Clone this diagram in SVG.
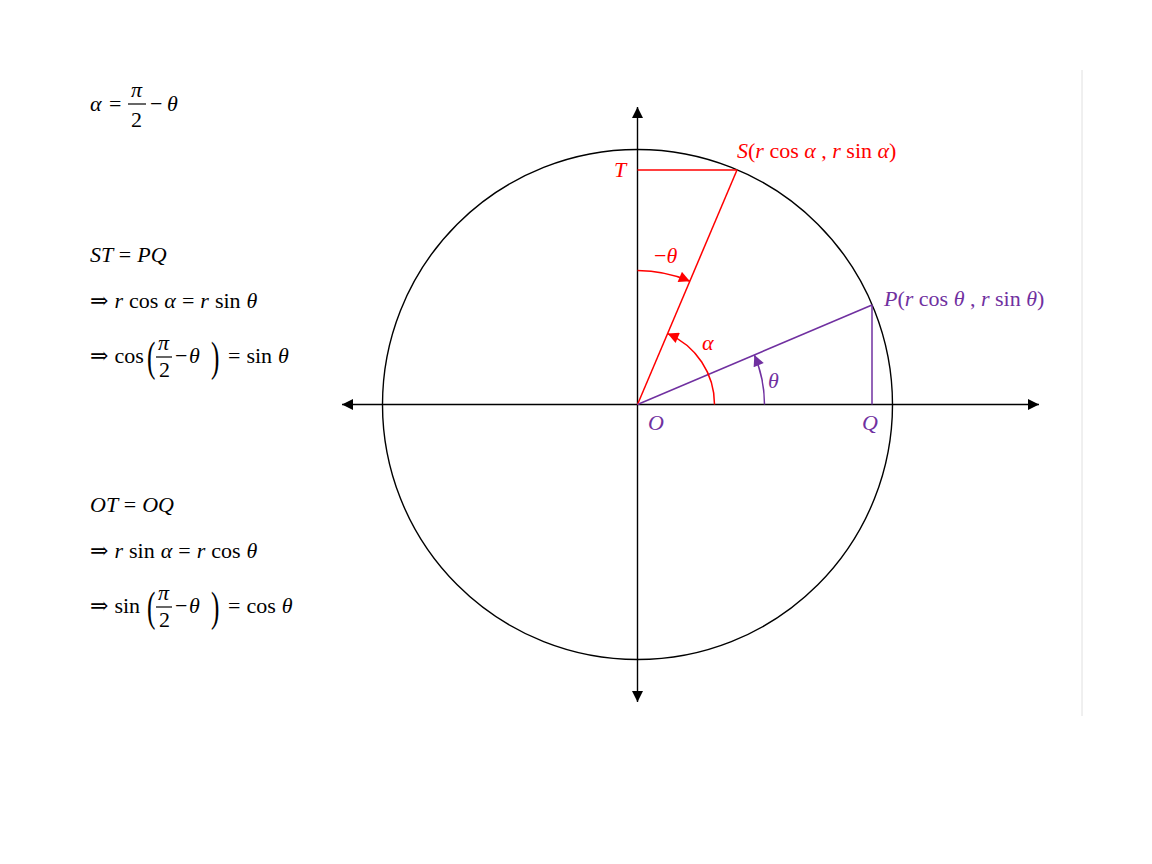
<svg xmlns="http://www.w3.org/2000/svg" width="1152" height="864" viewBox="0 0 1152 864">
<style>
text{font-family:"Liberation Serif","DejaVu Serif",serif;font-size:22px;fill:#000}
.eq{word-spacing:0.5px}
.i{font-style:italic}
.red{fill:#FF0000}
.pur{fill:#7030A0}
.ax{stroke:#000;stroke-width:1.4;fill:none}
.rl{stroke:#FF0000;stroke-width:1.5;fill:none}
.pl{stroke:#7030A0;stroke-width:1.5;fill:none}
.bar{stroke:#000;stroke-width:1.2}
.big{font-size:42px}
</style>
<defs>
<marker id="ab" viewBox="0 0 10 10" refX="10" refY="5" markerWidth="12" markerHeight="11" markerUnits="userSpaceOnUse" orient="auto"><path d="M0,0 L10,5 L0,10 Z" fill="#000"/></marker>
<marker id="ar" viewBox="0 0 10 10" refX="10" refY="5" markerWidth="12" markerHeight="11" markerUnits="userSpaceOnUse" orient="auto"><path d="M0,0 L10,5 L0,10 Z" fill="#FF0000"/></marker>
<marker id="ap" viewBox="0 0 10 10" refX="10" refY="5" markerWidth="12" markerHeight="11" markerUnits="userSpaceOnUse" orient="auto"><path d="M0,0 L10,5 L0,10 Z" fill="#7030A0"/></marker>
</defs>
<rect width="1152" height="864" fill="#fff"/>
<line x1="1082" y1="70" x2="1082" y2="716" stroke="#e0e0e0" stroke-width="1"/>

<g id="equations">
<text x="90" y="111" class="i">α</text>
<text x="109" y="111">=</text>
<text x="131" y="97" class="i">π</text>
<line class="bar" x1="128" y1="104" x2="146" y2="104"/>
<text x="131" y="127">2</text>
<text x="150" y="111">−</text>
<text x="167" y="111" class="i">θ</text>

<text x="90" y="262" class="i eq">ST <tspan font-style="normal">=</tspan> PQ</text>
<text x="90" y="308" class="eq">⇒ <tspan class="i">r</tspan> cos <tspan class="i">α</tspan> = <tspan class="i">r</tspan> sin <tspan class="i">θ</tspan></text>
<text x="90" y="363" class="eq">⇒ cos</text>
<text x="147" y="371" class="big" transform="translate(147 371) scale(0.6 1) translate(-147 -371)">(</text>
<text x="158" y="350" class="i">π</text>
<line class="bar" x1="156" y1="357" x2="172" y2="357"/>
<text x="159" y="377">2</text>
<text x="175" y="363">−</text>
<text x="189" y="363" class="i">θ</text>
<text x="211" y="371" class="big" transform="translate(211 371) scale(0.6 1) translate(-211 -371)">)</text>
<text x="228" y="363" class="eq">= sin <tspan class="i">θ</tspan></text>

<text x="90" y="512" class="i eq">OT <tspan font-style="normal">=</tspan> OQ</text>
<text x="90" y="558" class="eq">⇒ <tspan class="i">r</tspan> sin <tspan class="i">α</tspan> = <tspan class="i">r</tspan> cos <tspan class="i">θ</tspan></text>
<text x="90" y="613" class="eq">⇒ sin</text>
<text x="147" y="621" class="big" transform="translate(147 621) scale(0.6 1) translate(-147 -621)">(</text>
<text x="158" y="600" class="i">π</text>
<line class="bar" x1="156" y1="607" x2="172" y2="607"/>
<text x="159" y="627">2</text>
<text x="175" y="613">−</text>
<text x="189" y="613" class="i">θ</text>
<text x="211" y="621" class="big" transform="translate(211 621) scale(0.6 1) translate(-211 -621)">)</text>
<text x="228" y="613" class="eq">= cos <tspan class="i">θ</tspan></text>
</g>

<g id="circle">
<circle cx="637.5" cy="404.5" r="255" class="ax"/>
</g>

<g id="connectors">
<line class="ax" x1="637.5" y1="404.5" x2="342" y2="404.5" marker-end="url(#ab)"/>
<line class="ax" x1="637.5" y1="404.5" x2="1039" y2="404.5" marker-end="url(#ab)"/>
<line class="ax" x1="637.5" y1="404.5" x2="637.5" y2="107" marker-end="url(#ab)"/>
<line class="ax" x1="637.5" y1="404.5" x2="637.5" y2="702" marker-end="url(#ab)"/>

<line class="rl" x1="637.5" y1="404.5" x2="737" y2="170"/>
<line class="rl" x1="637.5" y1="170" x2="737" y2="170"/>
<line class="pl" x1="637.5" y1="404.5" x2="872" y2="305"/>
<line class="pl" x1="872" y1="305" x2="872" y2="404.5"/>

<path class="rl" d="M714.5,404.5 A77,77 0 0 0 667.6,333.6" marker-end="url(#ar)"/>
<path class="pl" d="M764.5,404.5 A127,127 0 0 0 754.4,355.1" marker-end="url(#ap)"/>
<path class="rl" d="M637.5,270.5 A134,134 0 0 1 689.9,281.2" marker-end="url(#ar)"/>
</g>

<g id="labels">
<text x="737" y="158" class="red"><tspan class="i">S</tspan>(<tspan class="i">r</tspan> cos <tspan class="i">α</tspan> , <tspan class="i">r</tspan> sin <tspan class="i">α</tspan>)</text>
<text x="614" y="177" class="red i">T</text>
<text x="654" y="263" class="red">−<tspan class="i">θ</tspan></text>
<text x="702" y="350" class="red i">α</text>
<text x="768" y="388" class="pur i">θ</text>
<text x="884" y="306" class="pur"><tspan class="i">P</tspan>(<tspan class="i">r</tspan> cos <tspan class="i">θ</tspan> , <tspan class="i">r</tspan> sin <tspan class="i">θ</tspan>)</text>
<text x="648" y="430" class="pur i">O</text>
<text x="862" y="430" class="pur i">Q</text>
</g>
</svg>
